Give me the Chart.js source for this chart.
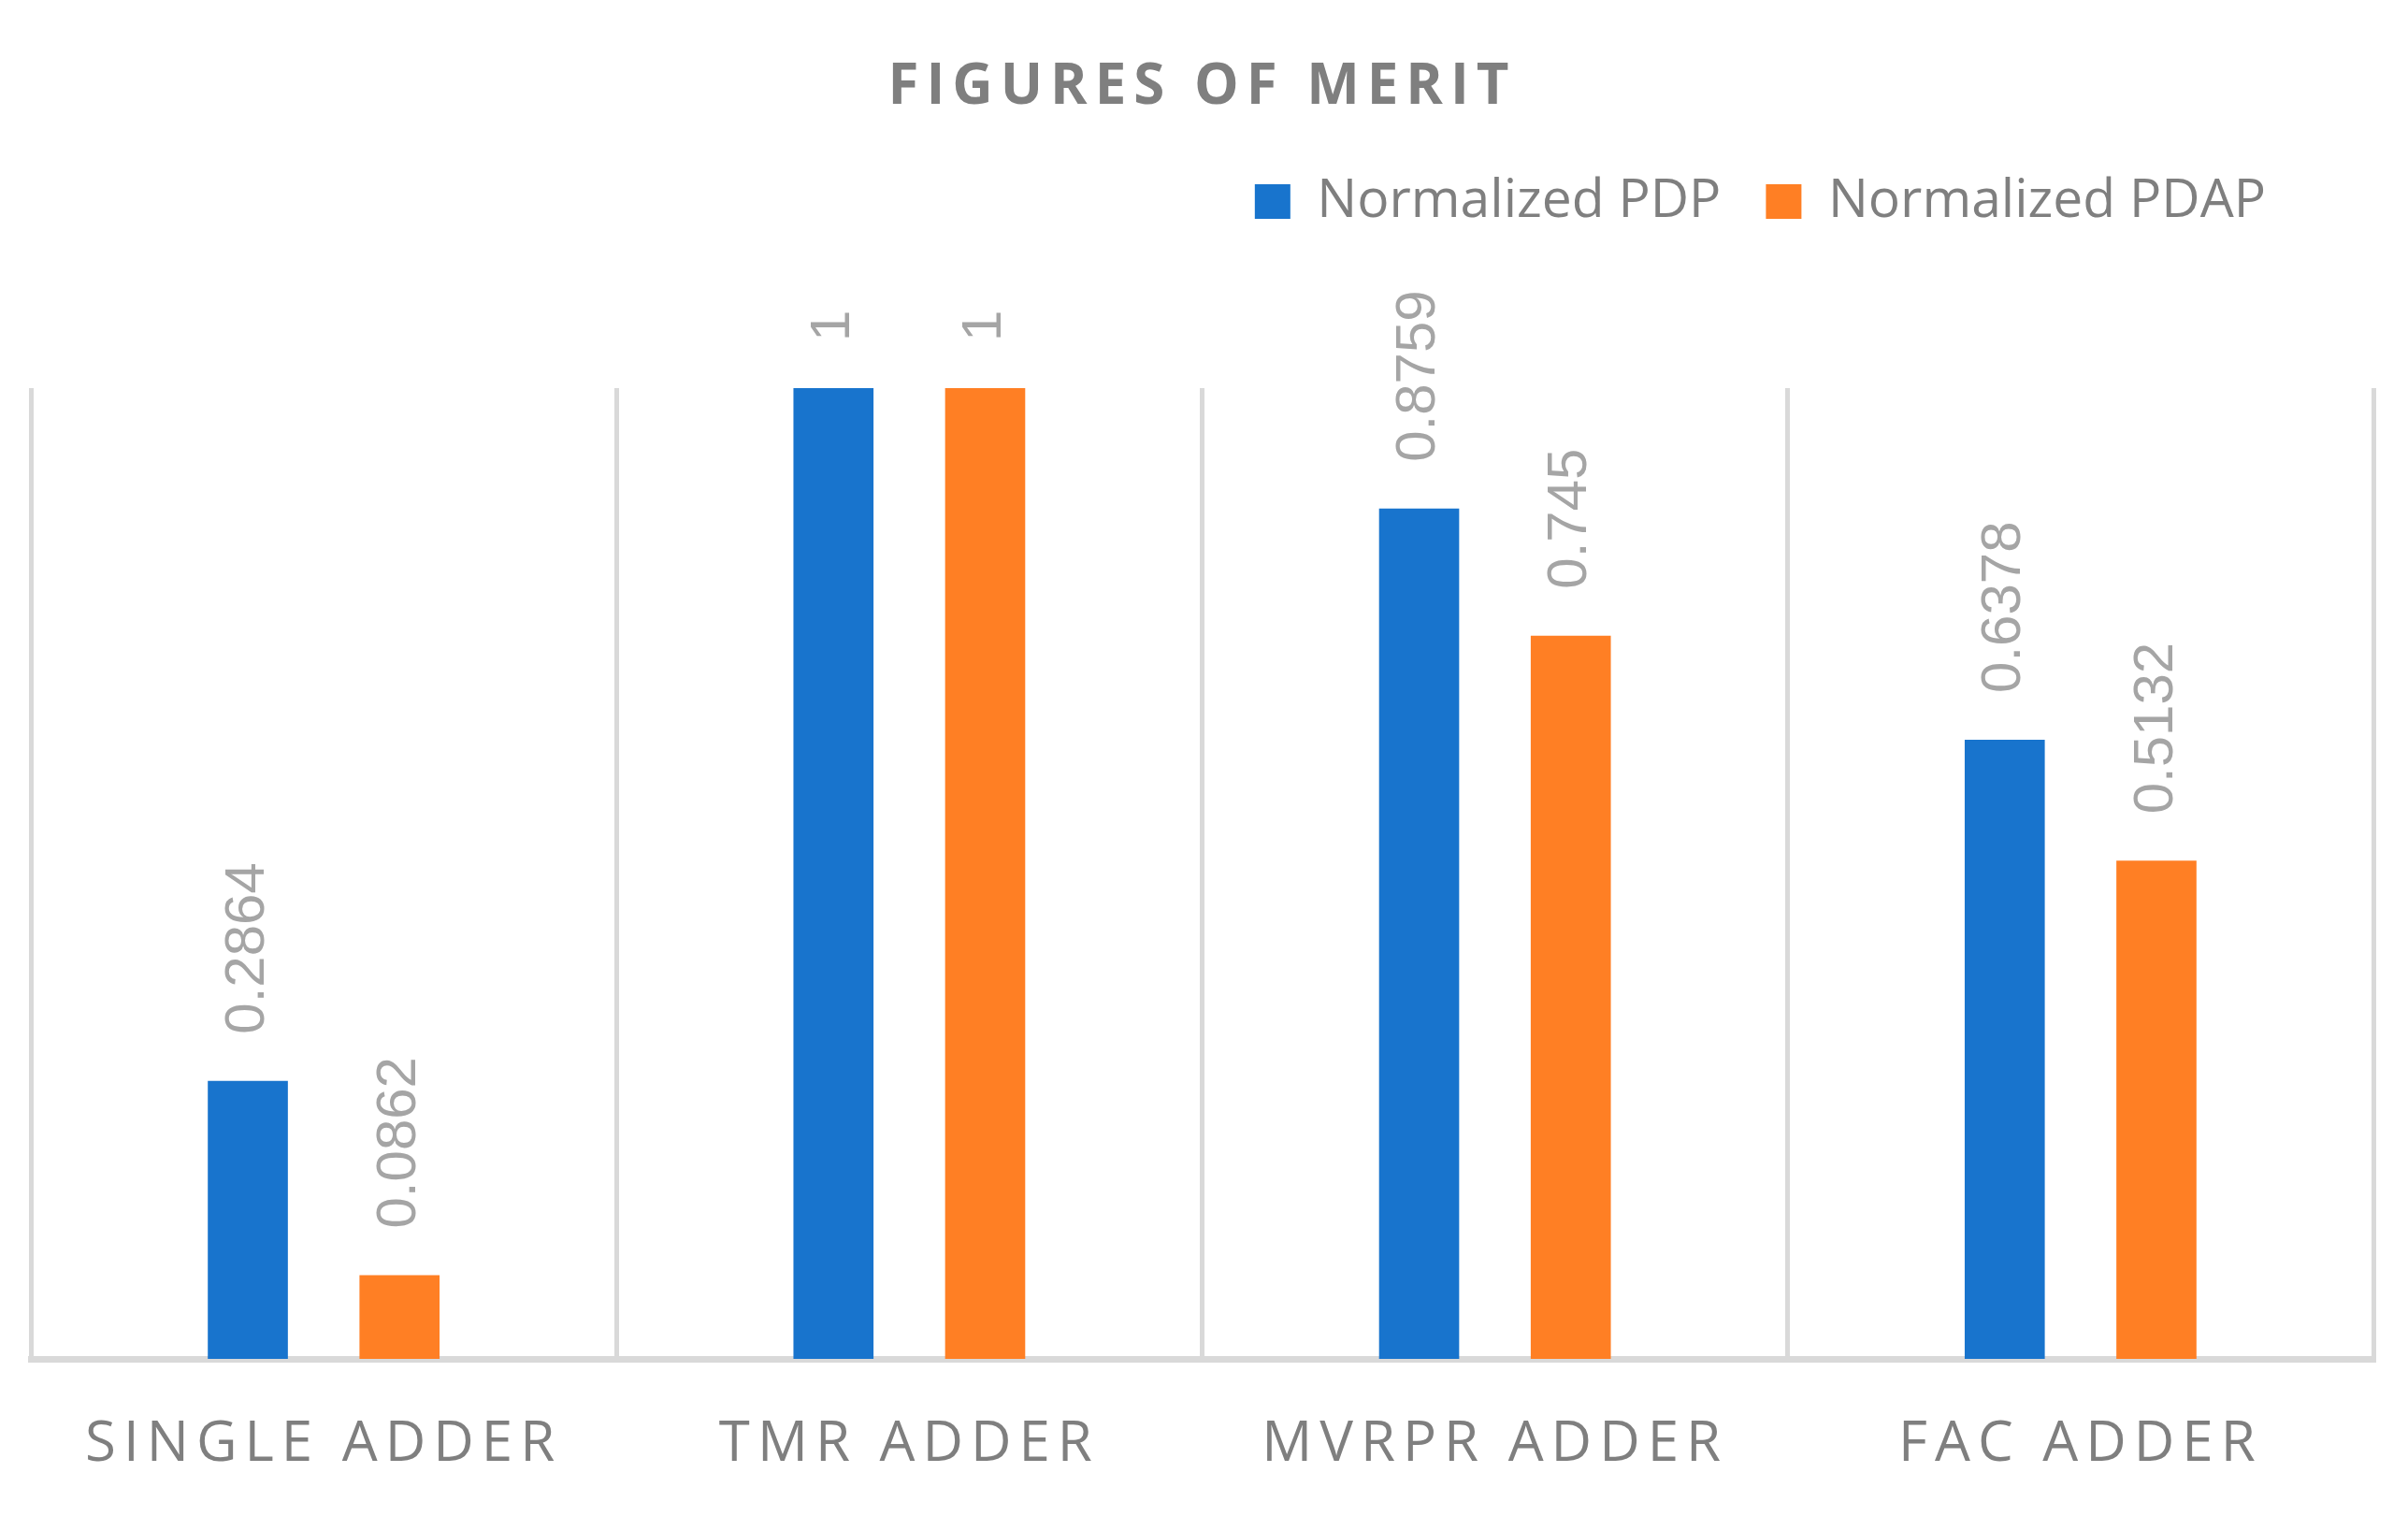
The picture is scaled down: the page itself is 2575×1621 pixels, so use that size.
<!DOCTYPE html>
<html><head><meta charset="utf-8">
<script src="https://cdn.jsdelivr.net/npm/chart.js@4.4.1/dist/chart.umd.min.js"></script>
<style>html,body{margin:0;padding:0;background:#fff;}canvas{display:block}</style>
</head><body>
<canvas id="c" width="2575" height="1621"></canvas>
<script>
const categories = ['SINGLE ADDER', 'TMR ADDER', 'MVRPR ADDER', 'FAC ADDER'];
const seriesNames = ['Normalized PDP', 'Normalized PDAP'];
const pdpValues = [0.2864, 1, 0.8759, 0.6378];
const pdapValues = [0.0862, 1, 0.745, 0.5132];
const yRange = [0, 1];
const chartTitle = 'FIGURES OF MERIT';

const spacingPlugin = {
  id: 'spacing',
  afterLayout(chart) {
    if (chart.legend) chart.legend.right -= 67;
    const sx = chart.scales.x;
    if (sx && !sx._spaced) {
      const o = sx.drawLabels;
      sx.drawLabels = function (a) { this.ctx.save(); this.ctx.letterSpacing = '8px'; o.call(this, a); this.ctx.restore(); };
      sx._spaced = true;
    }
    const tb = chart.titleBlock;
    if (tb && !tb._spaced) {
      const o = tb.draw;
      tb.draw = function (a) { this.ctx.save(); this.ctx.letterSpacing = '8px'; o.call(this, a); this.ctx.restore(); };
      tb._spaced = true;
    }
  }
};

const valueLabels = {
  id: 'valueLabels',
  afterDatasetsDraw(chart) {
    const ctx = chart.ctx;
    ctx.save();
    ctx.fillStyle = '#a5a5a5';
    ctx.font = '60px "Liberation Sans"';
    ctx.textAlign = 'left';
    ctx.textBaseline = 'middle';
    chart.data.datasets.forEach((ds, i) => {
      chart.getDatasetMeta(i).data.forEach((bar, j) => {
        ctx.save();
        ctx.translate(bar.x, bar.y - 50);
        ctx.rotate(-Math.PI / 2);
        ctx.fillText(String(ds.data[j]), 0, 0);
        ctx.restore();
      });
    });
    ctx.restore();
  }
};

new Chart(document.getElementById('c'), {
  type: 'bar',
  data: {
    labels: categories,
    datasets: [
      { label: seriesNames[0], data: pdpValues, backgroundColor: '#1874CD', categoryPercentage: 0.518, barPercentage: 0.528 },
      { label: seriesNames[1], data: pdapValues, backgroundColor: '#FF7F24', categoryPercentage: 0.518, barPercentage: 0.528 }
    ]
  },
  options: {
    responsive: false,
    devicePixelRatio: 1,
    animation: false,
    layout: { padding: { left: 33, right: 37, top: 0, bottom: -16 } },
    plugins: {
      title: {
        display: true, text: chartTitle, color: '#7f7f7f',
        font: { family: 'Open Sans', size: 60, weight: 'bold', lineHeight: 1.2 },
        padding: { top: 58, bottom: 9 }
      },
      legend: {
        position: 'top', align: 'end',
        labels: { color: '#7f7f7f', font: { family: 'Open Sans', size: 57 }, boxWidth: 38, boxHeight: 37, padding: 48 }
      },
      subtitle: { display: true, text: '', weight: 500, font: { size: 10, lineHeight: 1 }, padding: { top: 151, bottom: 0 } },
      tooltip: { enabled: false }
    },
    scales: {
      x: {
        grid: { color: '#d9d9d9', lineWidth: 5, drawTicks: false, offset: true },
        border: { color: '#d9d9d9', width: 7 },
        ticks: { color: '#7f7f7f', font: { family: 'Open Sans', size: 60 }, padding: 56, maxRotation: 0, autoSkip: false }
      },
      y: { display: false, min: yRange[0], max: yRange[1] }
    }
  },
  plugins: [spacingPlugin, valueLabels]
});
</script>
</body></html>
